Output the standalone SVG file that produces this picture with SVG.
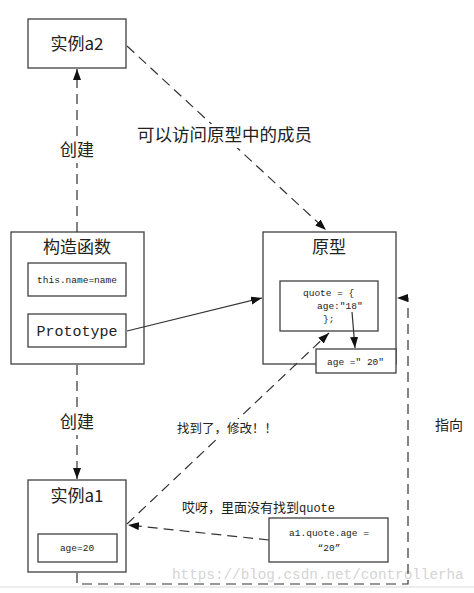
<svg xmlns="http://www.w3.org/2000/svg" width="474" height="593" viewBox="0 0 474 593">
<style>
.box{fill:#fff;stroke:#404040;stroke-width:1.3}
.cjk{font-family:"Noto Sans CJK SC","Liberation Sans",sans-serif;fill:#222}
.mono{font-family:"Liberation Mono","DejaVu Sans Mono",monospace;fill:#222}
.ln{fill:none;stroke:#333;stroke-width:1.2}
.dash{stroke-dasharray:10,6}
</style>
<defs>
<marker id="ah" markerUnits="userSpaceOnUse" markerWidth="12" markerHeight="9" refX="11" refY="4" orient="auto">
<path d="M0,0 L11,4 L0,8 z" fill="#111"/>
</marker>
</defs>
<rect width="474" height="593" fill="#fff"/>

<g id="watermark">
<line x1="0" y1="587" x2="474" y2="587" stroke="#e6e6e6" stroke-width="1.5"/>
<text x="172" y="579" font-family="Liberation Mono, monospace" font-size="14.3" fill="#d4d4d4">https://blog.csdn.net/controllerha</text>
</g>

<g id="a2">
<rect class="box" x="28" y="19" width="98" height="49"/>
<text class="cjk" x="77" y="50" font-size="17" text-anchor="middle">实例a2</text>
</g>

<g id="constructor">
<rect class="box" x="11" y="232" width="133" height="132"/>
<text class="cjk" x="77" y="253" font-size="17" text-anchor="middle">构造函数</text>
<rect class="box" x="28" y="263" width="98" height="33"/>
<text class="mono" x="77" y="283" font-size="9.5" text-anchor="middle">this.name=name</text>
<rect class="box" x="28" y="314" width="98" height="33"/>
<text class="mono" x="77" y="336" font-size="15" text-anchor="middle">Prototype</text>
</g>

<g id="prototype">
<rect class="box" x="263" y="232" width="133" height="132"/>
<text class="cjk" x="329" y="253" font-size="17" text-anchor="middle">原型</text>
<rect class="box" x="280" y="281" width="98" height="50"/>
<text class="mono" x="303" y="296" font-size="9.5">quote = {</text>
<text class="mono" x="317" y="309" font-size="9.5">age:″18″</text>
<text class="mono" x="323" y="322" font-size="9.5">};</text>
<rect class="box" x="316" y="349" width="80" height="24"/>
<text class="mono" x="327" y="365" font-size="9.5">age =″ 20″</text>
</g>

<g id="a1">
<rect class="box" x="28" y="480" width="98" height="92"/>
<text class="cjk" x="77" y="502" font-size="17" text-anchor="middle">实例a1</text>
<rect class="box" x="38" y="534" width="79" height="28"/>
<text class="mono" x="77" y="551" font-size="9.5" text-anchor="middle">age=20</text>
</g>

<g id="assign">
<rect class="box" x="269" y="518" width="119" height="44"/>
<text class="mono" x="329" y="536" font-size="9.5" text-anchor="middle">a1.quote.age =</text>
<text class="mono" x="329" y="551" font-size="9.5" text-anchor="middle">“20”</text>
</g>

<g id="connectors">
<line class="ln dash" x1="77" y1="232" x2="77" y2="69" marker-end="url(#ah)"/>
<line class="ln dash" x1="127" y1="46" x2="326" y2="230" marker-end="url(#ah)"/>
<line class="ln" x1="127" y1="331" x2="262" y2="298" marker-end="url(#ah)"/>
<line class="ln dash" x1="77" y1="365" x2="77" y2="479" marker-end="url(#ah)"/>
<line class="ln dash" x1="127" y1="524" x2="329" y2="333" marker-end="url(#ah)"/>
<line class="ln dash" x1="269" y1="540" x2="128" y2="525" marker-end="url(#ah)"/>
<line class="ln" x1="352" y1="312" x2="355" y2="348" marker-end="url(#ah)"/>
<polyline class="ln dash" points="77,573 77,584 408,584 408,298 397,298" marker-end="url(#ah)"/>
</g>

<g id="labels">
<rect x="58" y="139" width="38" height="24" fill="#fff"/>
<text class="cjk" x="77" y="156" font-size="17" text-anchor="middle">创建</text>
<rect x="135" y="124" width="184" height="24" fill="#fff"/>
<text class="cjk" x="137" y="141" font-size="17.5">可以访问原型中的成员</text>
<rect x="58" y="411" width="38" height="24" fill="#fff"/>
<text class="cjk" x="77" y="428" font-size="17" text-anchor="middle">创建</text>
<rect x="176" y="419" width="98" height="18" fill="#fff"/>
<text class="cjk" x="177" y="433" font-size="12.5">找到了，修改！！</text>
<text class="cjk" x="182" y="512" font-size="13">哎呀，里面没有找到<tspan class="mono" font-size="12">quote</tspan></text>
<text class="cjk" x="435" y="430" font-size="14">指向</text>
</g>
</svg>
